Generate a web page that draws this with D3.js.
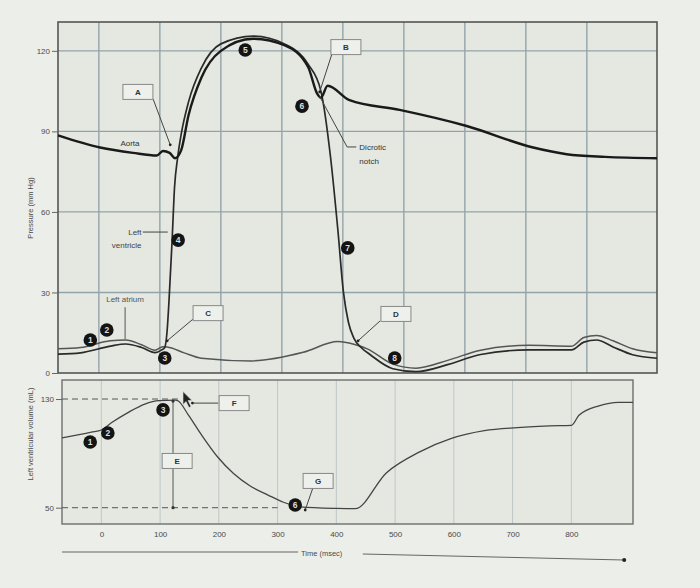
<!DOCTYPE html>
<html><head><meta charset="utf-8">
<script src="https://cdn.jsdelivr.net/npm/d3@7"></script>
<style>
html,body{margin:0;padding:0;background:#eceee9;}
svg{display:block;font-family:"Liberation Sans",Arial,sans-serif;}
</style></head>
<body>
<svg id="c" width="700" height="588"></svg>
<script>
// ---------- DATA ----------
const aortaT = [-67, 2, 56, 95, 105, 116, 125, 135, 147, 168, 200, 253, 305, 343, 358, 364, 375, 411, 493, 603, 712, 767, 830, 915];
const aortaP = [88.5, 84, 82, 81, 82.7, 82, 80, 83, 96, 110, 120, 124.5, 122, 114, 104, 102.5, 107, 101.6, 98, 92, 84, 81.5, 80.5, 80];

const lvT = [-67, -30, 19, 44, 70, 92, 103, 108, 112, 115, 120, 124, 129, 135, 147, 168, 200, 253, 305, 343, 364, 380, 392, 401, 409, 418, 430, 445, 482, 520, 573, 626, 705, 775, 795, 816, 843, 875, 915];
const lvP = [7, 7.5, 10, 10.8, 9.5, 7.6, 8.6, 9.5, 16, 27, 49, 69, 80, 89, 101, 113.6, 122.6, 125.5, 122.5, 115, 105, 80, 52.8, 30, 19, 13, 9.5, 6.8, 1.6, 0.5, 3.2, 6.9, 8.6, 8.6, 11.5, 12.3, 9.7, 6.8, 5.5];

const laT = [-67, -30, 19, 44, 70, 92, 105, 112, 140, 168, 250, 335, 392, 418, 440, 482, 520, 573, 626, 705, 775, 795, 816, 843, 875, 915];
const laP = [9, 9.5, 12, 12.3, 10.5, 8.5, 9.8, 9.7, 7.5, 5.5, 4.5, 7.7, 11.7, 10.7, 9, 3.3, 1.8, 4.8, 8.5, 10.3, 10, 13.2, 14, 12, 9, 7.5];

const volT = [-67, -17, 0, 17, 46, 74, 98, 126, 131, 148, 170, 198, 225, 254, 283, 310, 339, 400, 432, 485, 541, 596, 652, 708, 763, 800, 813, 847, 880, 905];
const volV = [101.4, 105.6, 107.2, 112.5, 120.2, 126.3, 128.8, 129.2, 128.5, 118.3, 103.9, 87.3, 75.1, 65.8, 59.5, 54, 50.6, 49.5, 49.3, 75.6, 90.9, 101, 106.7, 108.9, 110.2, 110.6, 118, 125, 127.6, 127.6];

const pressureTicks = [0, 30, 60, 90, 120];
const volumeTicks = [50, 130];
const timeTicks = [0, 100, 200, 300, 400, 500, 600, 700, 800];

// annotations (data coordinates)
const topCircles = [{n:1,t:-14,p:12.3},{n:2,t:13,p:16},{n:3,t:108,p:5.6},{n:4,t:130,p:49.5},{n:5,t:240,p:120.3},{n:6,t:333,p:99.4},{n:7,t:408,p:46.6},{n:8,t:485,p:5.6}];
const botCircles = [{n:1,t:-19,v:98.4},{n:2,t:11,v:105},{n:3,t:105,v:122},{n:6,t:330,v:52}];
const topBoxes = [{s:"A",t:64,p:104.7,from:[89,102],to:[117,85]},{s:"B",t:405,p:121.4,from:[382,118.8],to:[362,104.7]},{s:"C",t:179,p:22.3,from:[154,20],to:[112,12]},{s:"D",t:487,p:22,from:[461,19.4],to:[425,12]}];
const botBoxes = [{s:"F",t:226,v:127,from:[199,127],to:[155,127]},{s:"G",t:369,v:69.7,from:[360,64.5],to:[347,48.3]}];

// ---------- SETUP ----------
const svg = d3.select("#c");
const W = 700, H = 588;
svg.append("rect").attr("width",W).attr("height",H).attr("fill","#eceee9");

const xT = d3.scaleLinear().domain([-67, 915]).range([58, 657]);
const yT = d3.scaleLinear().domain([0, 130]).range([373, 24]);
const xB = d3.scaleLinear().domain([-67, 905]).range([62, 633]);
const yB = d3.scaleLinear().domain([38, 144]).range([524, 380]);

const gridC = "#93a3aa", txtC = "#4a4a4a";

// panel backgrounds
svg.append("rect").attr("x",58).attr("y",22).attr("width",599).attr("height",351).attr("fill","#e4e8e1");
svg.append("rect").attr("x",62).attr("y",380).attr("width",571).attr("height",144).attr("fill","#e4e8e1");

// grids
const gT = svg.append("g");
gT.selectAll(".v").data(timeTicks).join("line")
  .attr("x1",d=>xT(d)).attr("x2",d=>xT(d)).attr("y1",22).attr("y2",373)
  .attr("stroke",gridC).attr("stroke-width",1.4);
gT.selectAll(".h").data(pressureTicks.slice(1)).join("line")
  .attr("x1",58).attr("x2",657).attr("y1",d=>yT(d)).attr("y2",d=>yT(d))
  .attr("stroke",gridC).attr("stroke-width",1.4);
const gB = svg.append("g");
gB.selectAll("line").data(timeTicks).join("line")
  .attr("x1",d=>xB(d)).attr("x2",d=>xB(d)).attr("y1",380).attr("y2",524)
  .attr("stroke",gridC).attr("stroke-width",1).attr("opacity",0.45);

// frames
svg.append("rect").attr("x",58).attr("y",22).attr("width",599).attr("height",351)
  .attr("fill","none").attr("stroke","#555").attr("stroke-width",1.6);
svg.append("rect").attr("x",62).attr("y",380).attr("width",571).attr("height",144)
  .attr("fill","none").attr("stroke","#666").attr("stroke-width",1.3);

// axes
const axL = svg.append("g").attr("transform","translate(58,0)")
  .call(d3.axisLeft(yT).tickValues(pressureTicks).tickSize(6).tickPadding(2));
const axL2 = svg.append("g").attr("transform","translate(62,0)")
  .call(d3.axisLeft(yB).tickValues(volumeTicks).tickSize(6).tickPadding(2));
const axX = svg.append("g").attr("transform","translate(0,524)")
  .call(d3.axisBottom(xB).tickValues(timeTicks).tickSize(0).tickPadding(7));
[axL,axL2,axX].forEach(a=>{
  a.select(".domain").remove();
  a.selectAll("line").attr("stroke","#666");
  a.selectAll("text").attr("fill",txtC).attr("font-size",8);
});

// axis titles
svg.append("text").attr("transform","translate(33,208) rotate(-90)").attr("text-anchor","middle")
  .attr("font-size",7.5).attr("fill",txtC).text("Pressure (mm Hg)");
svg.append("text").attr("transform","translate(33,434) rotate(-90)").attr("text-anchor","middle")
  .attr("font-size",7.5).attr("fill",txtC).text("Left ventricular volume (mL)");
svg.append("line").attr("x1",xB(-67)).attr("x2",xB(335)).attr("y1",552).attr("y2",552).attr("stroke","#666");
svg.append("text").attr("x",xB(375)).attr("y",556).attr("text-anchor","middle")
  .attr("font-size",7.5).attr("fill",txtC).text("Time (msec)");
svg.append("line").attr("x1",xB(445)).attr("x2",xB(890)).attr("y1",554).attr("y2",560).attr("stroke","#666");
svg.append("circle").attr("cx",xB(890)).attr("cy",560).attr("r",2).attr("fill","#222");

// ---------- CURVES ----------
const zip = (a,b)=>a.map((d,i)=>[d,b[i]]);
const lineT = d3.line().x(d=>xT(d[0])).y(d=>yT(d[1])).curve(d3.curveMonotoneX);
const lineB = d3.line().x(d=>xB(d[0])).y(d=>yB(d[1])).curve(d3.curveMonotoneX);

svg.append("path").attr("d",lineT(zip(laT,laP))).attr("fill","none").attr("stroke","#555").attr("stroke-width",1.5);
svg.append("path").attr("d",lineT(zip(lvT,lvP))).attr("fill","none").attr("stroke","#2a2a2a").attr("stroke-width",1.7);
svg.append("path").attr("d",lineT(zip(aortaT,aortaP))).attr("fill","none").attr("stroke","#1a1a1a").attr("stroke-width",2.4);
svg.append("path").attr("d",lineB(zip(volT,volV))).attr("fill","none").attr("stroke","#444").attr("stroke-width",1.3);

// dashed reference lines in volume panel
svg.append("line").attr("x1",xB(-67)).attr("x2",xB(135)).attr("y1",yB(130)).attr("y2",yB(130))
  .attr("stroke","#555").attr("stroke-dasharray","6,4").attr("stroke-width",1);
svg.append("line").attr("x1",xB(-67)).attr("x2",xB(300)).attr("y1",yB(50)).attr("y2",yB(50))
  .attr("stroke","#555").attr("stroke-dasharray","6,4").attr("stroke-width",1);
svg.append("line").attr("x1",xB(122)).attr("x2",xB(122)).attr("y1",yB(128.5)).attr("y2",yB(50))
  .attr("stroke","#555").attr("stroke-width",1);
[128.5,50].forEach(v=>svg.append("circle").attr("cx",xB(122)).attr("cy",yB(v)).attr("r",1.6).attr("fill","#333"));

// ---------- LABELS ----------
function box(x,y,s){
  svg.append("rect").attr("x",x-15).attr("y",y-7.5).attr("width",30).attr("height",15)
    .attr("fill","#eef0ec").attr("stroke","#888").attr("stroke-width",1);
  svg.append("text").attr("x",x).attr("y",y+3).attr("text-anchor","middle").attr("font-size",8)
    .attr("font-weight","bold").attr("fill","#333").text(s);
}
function pointer(x1,y1,x2,y2){
  svg.append("line").attr("x1",x1).attr("y1",y1).attr("x2",x2).attr("y2",y2).attr("stroke","#444").attr("stroke-width",1);
  svg.append("circle").attr("cx",x2).attr("cy",y2).attr("r",1.4).attr("fill","#222");
}
topBoxes.forEach(b=>{ pointer(xT(b.from[0]),yT(b.from[1]),xT(b.to[0]),yT(b.to[1])); box(xT(b.t),yT(b.p),b.s); });
botBoxes.forEach(b=>{ pointer(xB(b.from[0]),yB(b.from[1]),xB(b.to[0]),yB(b.to[1])); });
box(xB(129),yB(84.4),"E");
botBoxes.forEach(b=>box(xB(b.t),yB(b.v),b.s));

// dicrotic notch
svg.append("polyline").attr("points",[[xT(362),yT(103)],[xT(407),yT(84.2)],[xT(422),yT(84.2)]].map(p=>p.join(",")).join(" "))
  .attr("fill","none").attr("stroke","#444").attr("stroke-width",1);
svg.append("text").attr("x",xT(427)).attr("y",yT(83)).attr("font-size",8).attr("fill","#333").text("Dicrotic");
svg.append("text").attr("x",xT(427)).attr("y",yT(78)).attr("font-size",8).attr("fill","#333").text("notch");

// Aorta / LV / LA labels
svg.append("text").attr("x",xT(51)).attr("y",yT(84.5)).attr("text-anchor","middle").attr("font-size",8).attr("fill","#333").text("Aorta");
svg.append("text").attr("x",xT(70)).attr("y",yT(51.5)).attr("text-anchor","end").attr("font-size",8).attr("fill","#444").text("Left");
svg.append("text").attr("x",xT(70)).attr("y",yT(46.5)).attr("text-anchor","end").attr("font-size",8).attr("fill","#444").text("ventricle");
svg.append("line").attr("x1",xT(72)).attr("x2",xT(113)).attr("y1",yT(52.5)).attr("y2",yT(52.5)).attr("stroke","#444");
svg.append("text").attr("x",xT(43)).attr("y",yT(26.5)).attr("text-anchor","middle").attr("font-size",8).attr("fill","#555").text("Left atrium");
svg.append("line").attr("x1",xT(43)).attr("x2",xT(43)).attr("y1",yT(24.5)).attr("y2",yT(12.6)).attr("stroke","#555");

// numbered markers
function marker(x,y,n){
  svg.append("circle").attr("cx",x).attr("cy",y).attr("r",6.8).attr("fill","#141414");
  svg.append("text").attr("x",x).attr("y",y+3).attr("text-anchor","middle").attr("font-size",8.5)
    .attr("font-weight","bold").attr("fill","#ddd").text(n);
}
topCircles.forEach(c=>marker(xT(c.t),yT(c.p),c.n));
botCircles.forEach(c=>marker(xB(c.t),yB(c.v),c.n));

// mouse cursor (as in photo)
const cx0 = xB(139), cy0 = yB(135.5);
svg.append("path").attr("d",`M${cx0},${cy0} l0,13 l3,-3 l3,6 l2,-1 l-3,-6 l4,0 z`)
  .attr("fill","#222").attr("stroke","#ddd").attr("stroke-width",0.6);
</script>
</body></html>
